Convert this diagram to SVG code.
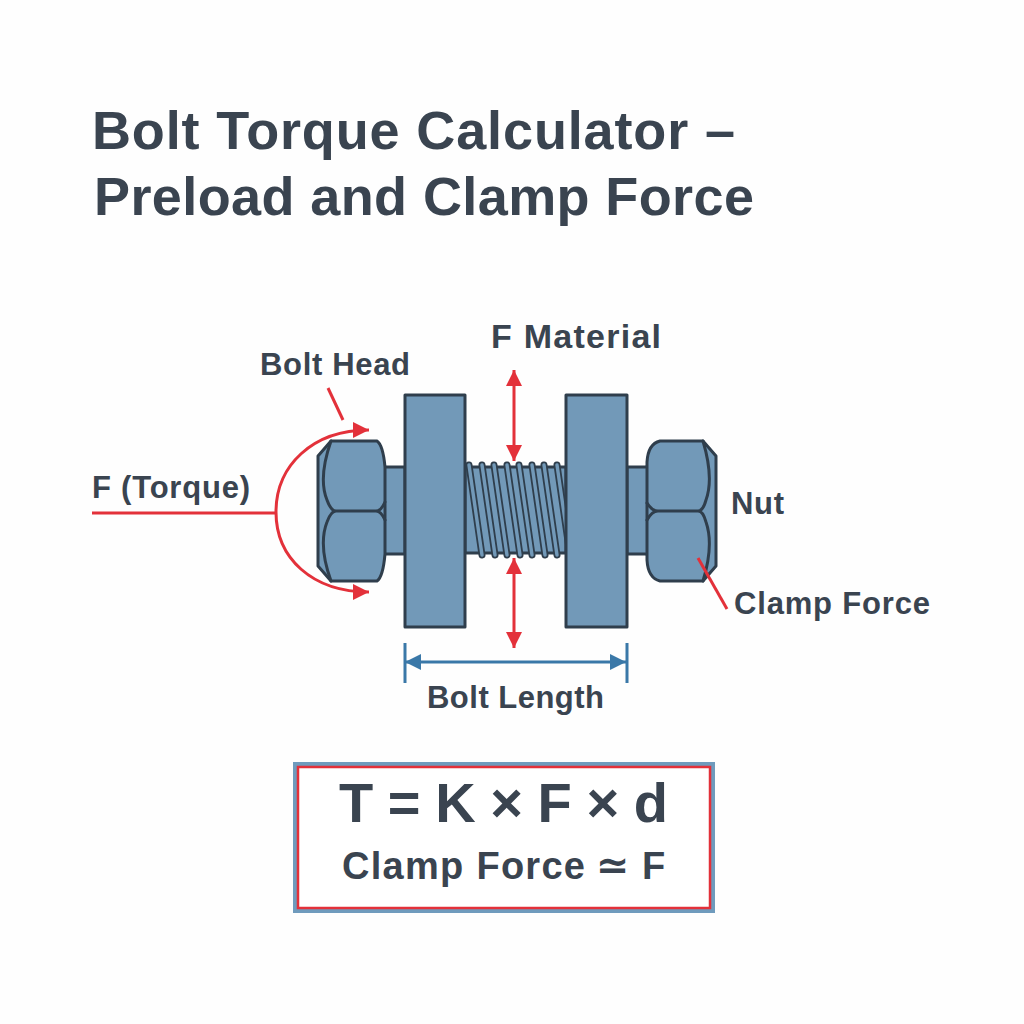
<svg xmlns="http://www.w3.org/2000/svg" width="1024" height="1024" viewBox="0 0 1024 1024">
<style>
text{font-family:"Liberation Sans",Arial,"DejaVu Sans",sans-serif;font-weight:700;fill:#3a4450}
.title{font-size:54px}
.lbl{font-size:31px}
.part{fill:#7299b8;stroke:#2f3e4c;stroke-width:3;stroke-linejoin:round}
.edge{fill:none;stroke:#2f3e4c;stroke-width:3;stroke-linejoin:round;stroke-linecap:round}
.thrA{fill:none;stroke:#2f3e4c;stroke-width:7;stroke-linecap:round}
.thrB{fill:none;stroke:#7299b8;stroke-width:3.4;stroke-linecap:round}
.red{fill:none;stroke:#e3313a;stroke-width:3}
.blue{fill:none;stroke:#3a78a8;stroke-width:3}
</style>
<defs>
<marker id="ar" markerUnits="userSpaceOnUse" markerWidth="18" markerHeight="18" refX="16" refY="9" orient="auto-start-reverse"><path d="M0 1L16 9L0 17Z" fill="#e3313a"/></marker>
<marker id="ab" markerUnits="userSpaceOnUse" markerWidth="18" markerHeight="18" refX="16" refY="9" orient="auto-start-reverse"><path d="M0 1L16 9L0 17Z" fill="#3a78a8"/></marker>
</defs>
<rect width="1024" height="1024" fill="#fefefe"/>
<g id="title">
<text class="title" x="92" y="149" textLength="643">Bolt Torque Calculator –</text>
<text class="title" x="94" y="215" textLength="660">Preload and Clamp Force</text>
</g>
<g id="bolt-shank">
<path class="part" d="M385 467Q381 467 381 460V560Q381 554 385 554H405V467Z"/>
<path class="part" d="M651 460Q651 467 645 467H627V554H645Q651 554 651 560Z"/>
</g>
<g id="threads">
<rect class="part" x="465" y="467" width="101" height="86"/>
<path class="thrA" d="M469 465L482 555M482 465L495 555M494 465L507 555M507 465L520 555M519 465L532 555M532 465L545 555M544 465L557 555M557 465L570 555"/>
<path class="thrB" d="M469 465L482 555M482 465L495 555M494 465L507 555M507 465L520 555M519 465L532 555M532 465L545 555M544 465L557 555M557 465L570 555"/>
</g>
<g id="plate-left"><rect class="part" x="405" y="395" width="60" height="232"/></g>
<g id="plate-right"><rect class="part" x="566" y="395" width="61" height="232"/></g>
<g id="bolt-head">
<path class="part" d="M331 441H377Q383 445 385 467V554Q383 577 377 581H331L318 566V456Z"/>
<path class="edge" d="M331 441Q318 478 327 500Q331 511 336 511H376Q381 511 385 502M336 511Q331 511 327 522Q318 545 331 581M376 511Q381 511 385 520"/>
</g>
<g id="nut">
<path class="part" d="M660 441H703L716 456V566L703 581H660Q648 578 647 560V462Q648 444 660 441Z"/>
<path class="edge" d="M703 441Q714 478 706 500Q703 511 698 511H658Q652 511 647 503M698 511Q703 511 706 522Q714 545 703 581M658 511Q652 511 647 520"/>
</g>
<g id="connectors">
<path class="red" d="M92 513H276"/>
<path class="red" marker-end="url(#ar)" d="M276 512C276 466 312 430 369 430"/>
<path class="red" marker-end="url(#ar)" d="M276 512C276 558 312 592 369 592"/>
<path class="red" d="M328 388L343 420"/>
<path class="red" d="M698 558L727 609"/>
<path class="red" marker-start="url(#ar)" marker-end="url(#ar)" d="M514 370V461"/>
<path class="red" marker-start="url(#ar)" marker-end="url(#ar)" d="M514 558V648"/>
<path class="blue" marker-start="url(#ab)" marker-end="url(#ab)" d="M405 662H626"/>
<path class="blue" d="M405 643V683M627 643V683"/>
</g>
<g id="labels">
<text class="lbl" x="260" y="375" textLength="150">Bolt Head</text>
<text class="lbl" x="491" y="348" style="font-size:34px" textLength="170">F Material</text>
<text class="lbl" x="92" y="498" textLength="158">F (Torque)</text>
<text class="lbl" x="731" y="514" textLength="53">Nut</text>
<text class="lbl" x="734" y="614" textLength="196">Clamp Force</text>
<text class="lbl" x="427" y="708" textLength="177">Bolt Length</text>
</g>
<g id="formula">
<rect x="295" y="764" width="418" height="147" fill="#fff" stroke="#6f9bbd" stroke-width="4"/>
<rect x="298" y="767" width="412" height="141" fill="none" stroke="#e3313a" stroke-width="2.5"/>
<text x="339" y="822" style="font-size:56px" textLength="329" lengthAdjust="spacing">T = K × F × d</text>
<text x="342" y="879" style="font-size:38px"><tspan textLength="243">Clamp Force</tspan><tspan x="596" style="font-family:'DejaVu Sans',sans-serif;font-size:40px">≃</tspan><tspan x="642">F</tspan></text>
</g>
</svg>
